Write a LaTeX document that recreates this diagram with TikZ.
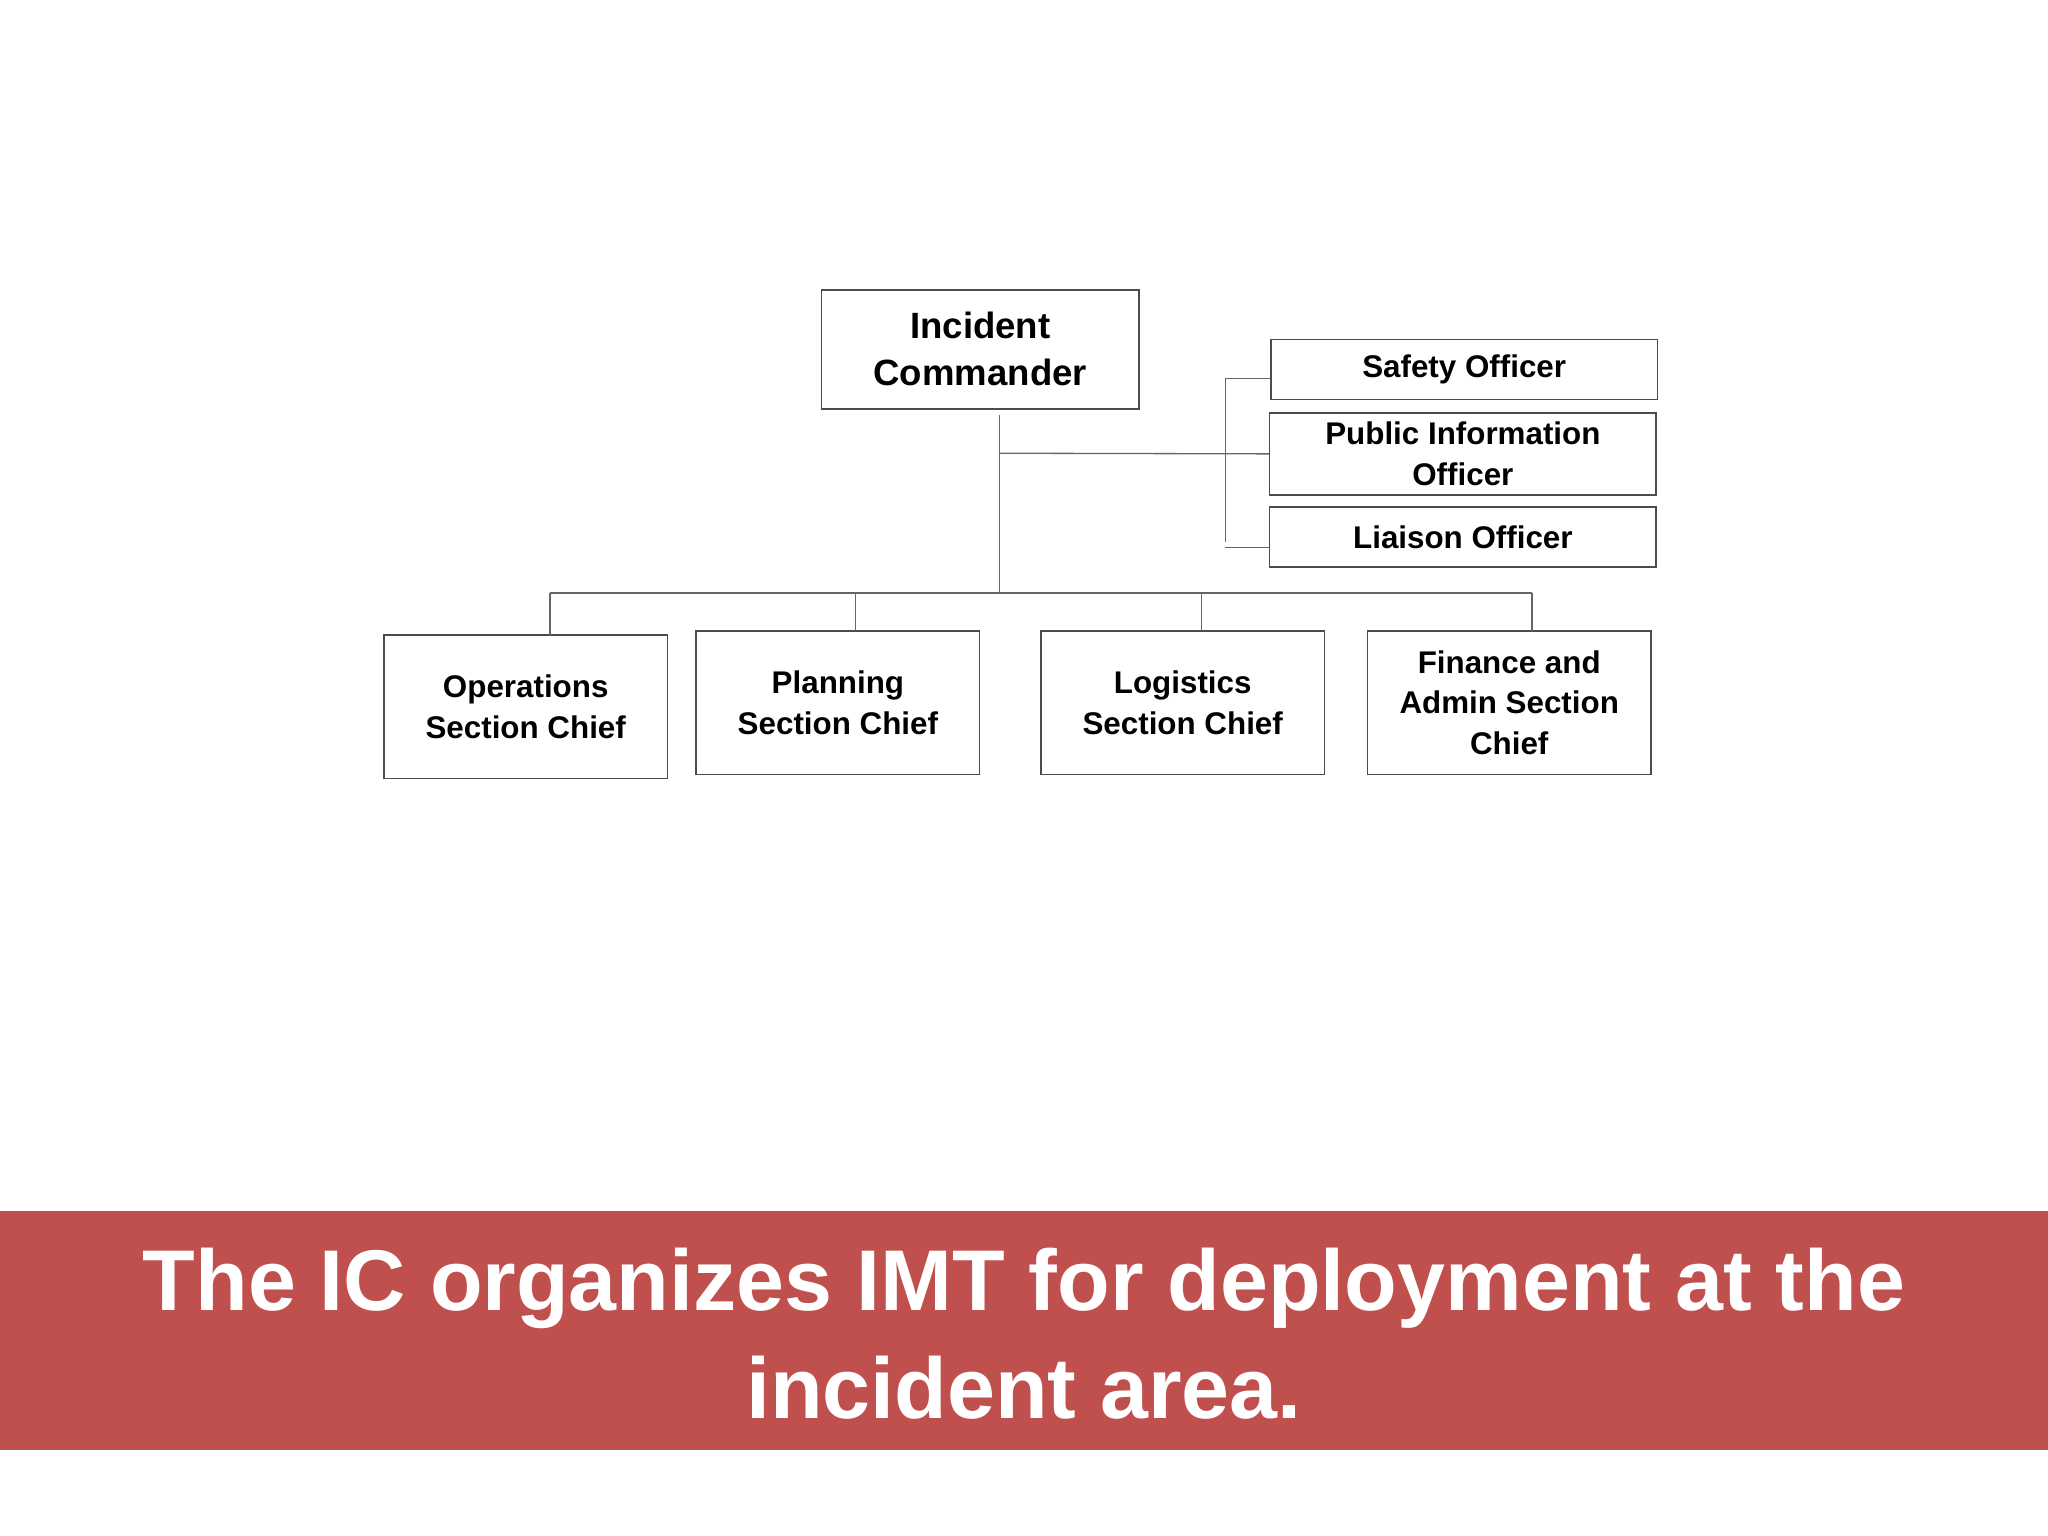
\documentclass[tikz,border=0pt]{standalone}
\usepackage{fontspec}
\setmainfont{Liberation Sans}
\definecolor{banner}{HTML}{C0504D}
\begin{document}
\begin{tikzpicture}[x=0.5pt,y=-0.5pt,
  box/.style={draw=black!70,line width=0.6pt,align=center,font=\bfseries\fontsize{12}{15.5}\selectfont,inner sep=0pt},
  ln/.style={draw=black!60,line width=0.5pt}]
\useasboundingbox (0,0) rectangle (1568,1176);
\fill[white] (0,0) rectangle (1568,1176);
\newcommand{\bx}[6]{\node[box,minimum width=#4*0.5pt-#2*0.5pt,minimum height=#5*0.5pt-#3*0.5pt] (#1) at ({(#2+#4)/2},{(#3+#5)/2}) {#6};}
\node[box,minimum width=121.5pt,minimum height=45.5pt,font=\bfseries\fontsize{14}{18}\selectfont] (ic) at (750.5,267.5) {Incident\\Commander};
\bx{safety}{973}{260}{1269}{306}{Safety Officer}
\bx{pio}{972}{316}{1268}{379}{Public Information\\Officer}
\bx{liaison}{972}{388}{1268}{434}{Liaison Officer}
\bx{ops}{294}{486}{511}{596}{Operations\\Section Chief}
\bx{plan}{533}{483}{750}{593}{Planning\\Section Chief}
\bx{logi}{797}{483}{1014}{593}{Logistics\\Section Chief}
\bx{fin}{1047}{483}{1264}{593}{Finance and\\Admin Section\\Chief}
\coordinate (top) at (765,318);
\coordinate (bus) at (765,454);
\coordinate (br1) at (938,290);
\coordinate (br2) at (938,415);
\draw[ln] (top) -- (bus);
\draw[ln] (765,347) -- (pio.west);
\draw[ln] (br2) -- (br1) -- (safety.west |- br1);
\draw[ln] (938,419) -- (liaison.west |- 938,419);
\draw[ln] (421,454) -- (1173,454);
\draw[ln] (421,454) -- (421,486);
\draw[ln] (655,454) -- (655,483);
\draw[ln] (920,454) -- (920,483);
\draw[ln] (1173,454) -- (1173,483);
\fill[banner] (0,927) rectangle (1568,1110);
\node[text=white,font=\bfseries\fontsize{33}{41.5}\selectfont,align=center] (cap) at (784,1021) {The IC organizes IMT for deployment at the\\incident area.};
\end{tikzpicture}
\end{document}
